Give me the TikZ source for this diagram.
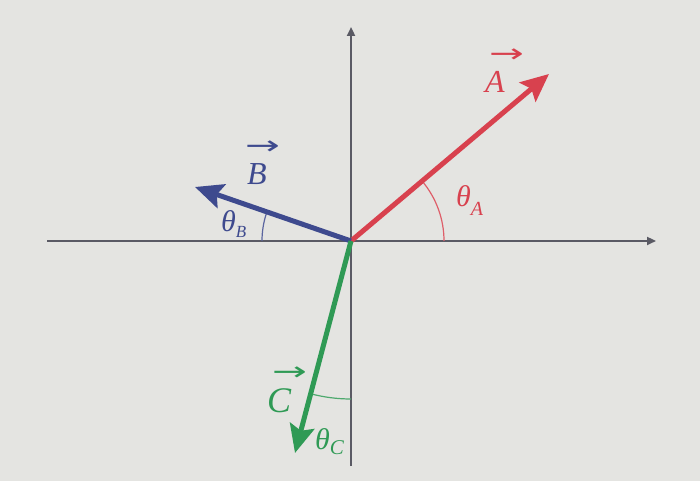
\documentclass[tikz,border=0pt]{standalone}
\usepackage{graphicx}
\usepackage{fontspec}
\setmainfont{Liberation Serif}
\newfontfamily\arrowfont{DejaVu Sans}
\usetikzlibrary{arrows.meta}
\definecolor{bg}{HTML}{E4E4E1}
\definecolor{axisc}{HTML}{5A5A64}
\definecolor{vA}{HTML}{D8414E}
\definecolor{vB}{HTML}{3E4A8E}
\definecolor{vC}{HTML}{2F9A55}
\newcommand\vlab[3]{\rlap{\hspace*{#1}\raisebox{#2}{\arrowfont\fontsize{26}{26}\selectfont\scalebox{1.6}[1]{→}}}\textit{#3}}
\newcommand\thlab[3]{θ\raisebox{-#2}{\fontsize{#3}{#3}\selectfont #1}}
\begin{document}
\begin{tikzpicture}[x=1pt,y=1pt,
  axis/.style={draw=axisc, line width=2.2pt, -{Triangle[length=9pt,width=8pt]}},
  vec/.style={line width=5pt, -{Stealth[length=28pt,width=25pt,inset=5pt]}},
  ang/.style={line width=1.2pt},
  lbl/.style={font=\fontsize{32}{36}\selectfont, inner sep=0pt, anchor=base west},
  thl/.style={font=\fontsize{30}{32}\selectfont\itshape, inner sep=0pt, anchor=base west}]
\fill[bg] (0,0) rectangle (700,481);
\useasboundingbox (0,0) rectangle (700,481);
\coordinate (O) at (351,240);
\coordinate (XL) at (47,240);
\coordinate (XR) at (656,240);
\coordinate (YB) at (351,15);
\coordinate (YT) at (351,454);
\draw[axis] (XL) -- (XR);
\draw[axis] (YB) -- (YT);
\coordinate (A) at (549,407);
\coordinate (B) at (195,294);
\coordinate (C) at (295,28);
\draw[ang, vA!85] ([shift={(0:93pt)}]O) arc[start angle=0, end angle=40.5, radius=93pt];
\draw[ang, vB!85] ([shift={(160.6:89pt)}]O) arc[start angle=160.6, end angle=180, radius=89pt];
\draw[ang, vC!85] ([shift={(255:158pt)}]O) arc[start angle=255, end angle=270, radius=158pt];
\draw[vec, vA] (O) -- (A);
\draw[vec, vB] (O) -- (B);
\draw[vec, vC] (O) -- (C);
\node[lbl, text=vA] (lA) at (485,388) {\vlab{4pt}{30pt}{A}};
\node[lbl, text=vB] (lB) at (247,296) {\vlab{-2pt}{30pt}{B}};
\node[lbl, text=vC, font=\fontsize{36}{40}\selectfont] (lC) at (267,68) {\vlab{5pt}{32pt}{C}};
\node[thl, text=vA] (tA) at (456,274) {\thlab{A}{9pt}{20}};
\node[thl, text=vB] (tB) at (221,249) {\thlab{B}{6pt}{17}};
\node[thl, text=vC] (tC) at (315,31) {\thlab{C}{5pt}{21}};
\end{tikzpicture}
\end{document}
